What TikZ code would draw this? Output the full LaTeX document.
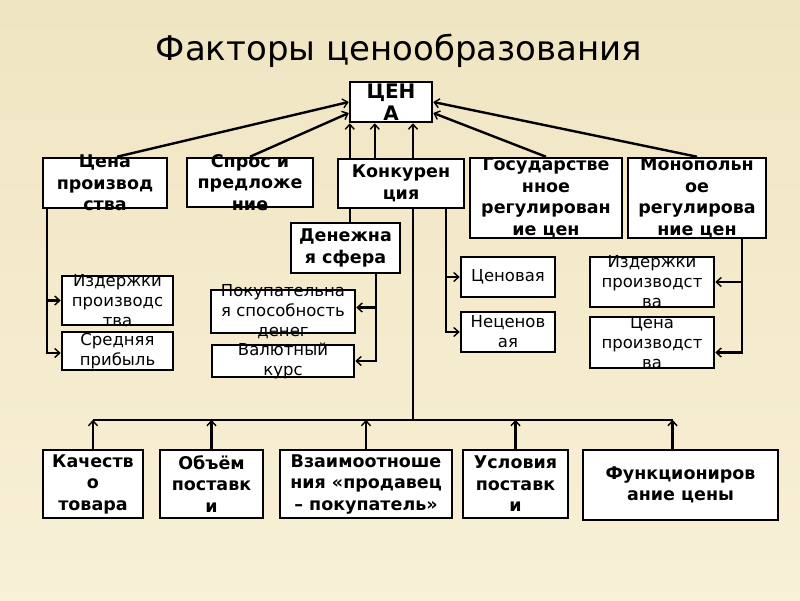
\documentclass[tikz,border=0pt]{standalone}
\usepackage{fontspec}
\setmainfont{DejaVu Sans}
\usetikzlibrary{arrows.meta}
\pgfdeclarelayer{bg}
\pgfdeclarelayer{lines}
\pgfsetlayers{bg,lines,main}
\definecolor{parchTop}{RGB}{240,229,194}
\definecolor{parchBot}{RGB}{248,240,215}
\tikzset{
  bbox/.style={draw=black, line width=2.5pt, fill=white, inner sep=0pt},
  tb/.style={font=\bfseries\fontsize{17.5}{21.5}\selectfont, align=center, inner sep=0pt},
  tr/.style={font=\fontsize{16.5}{20}\selectfont, align=center, inner sep=0pt},
  tc/.style={font=\bfseries\fontsize{20}{22}\selectfont, align=center, inner sep=0pt},
  conn/.style={draw=black, line width=2.4pt},
  arr/.style={conn, -{Straight Barb[length=5pt,width=9pt,line width=1.4pt]}},
}
\begin{document}
\begin{tikzpicture}[x=1pt,y=-1pt]
\begin{pgfonlayer}{bg}
  \shade[top color=parchTop, bottom color=parchBot] (0,0) rectangle (800,600);
\end{pgfonlayer}
\useasboundingbox (0,0) rectangle (800,600);

\node[font=\fontsize{34}{40}\selectfont] (title) at (399,51) {Факторы ценообразования};

% top row
\node[bbox, minimum width=82pt, minimum height=40pt, label={[tc]center:{ЦЕН\\А}}] (cena) at (391,102) {};
\node[bbox, minimum width=124pt, minimum height=50pt, label={[tb]center:{Цена\\производ\\ства}}] (cp) at (105,183) {};
\node[bbox, minimum width=126pt, minimum height=49pt, label={[tb]center:{Спрос и\\предложе\\ние}}] (sp) at (250,182.5) {};
\node[bbox, minimum width=126pt, minimum height=49pt, label={[tb]center:{Конкурен\\ция}}] (kon) at (401,183.5) {};
\node[bbox, minimum width=152pt, minimum height=80pt, label={[tb]center:{Государстве\\нное\\регулирован\\ие цен}}] (gos) at (546,198) {};
\node[bbox, minimum width=138pt, minimum height=80pt, label={[tb]center:{Монопольн\\ое\\регулирова\\ние цен}}] (mon) at (697,198) {};

% middle
\node[bbox, minimum width=109pt, minimum height=50pt, label={[tb]center:{Денежна\\я сфера}}] (den) at (345.5,248) {};
\node[bbox, minimum width=111pt, minimum height=49pt, label={[tr]center:{Издержки\\производс\\тва}}] (izd1) at (117.5,300.5) {};
\node[bbox, minimum width=111pt, minimum height=38pt, label={[tr]center:{Средняя\\прибыль}}] (sred) at (117.5,351) {};
\node[bbox, minimum width=144pt, minimum height=43pt, label={[tr]center:{Покупательна\\я способность\\денег}}] (pok) at (283,311.5) {};
\node[bbox, minimum width=142pt, minimum height=32pt, label={[tr]center:{Валютный\\курс}}] (val) at (283,361) {};
\node[bbox, minimum width=94pt, minimum height=40pt, label={[tr]center:{Ценовая}}] (cenv) at (508,277) {};
\node[bbox, minimum width=94pt, minimum height=40pt, label={[tr]center:{Неценов\\ая}}] (necen) at (508,332) {};
\node[bbox, minimum width=124pt, minimum height=50pt, label={[tr]center:{Издержки\\производст\\ва}}] (izd2) at (652,282) {};
\node[bbox, minimum width=124pt, minimum height=51pt, label={[tr]center:{Цена\\производст\\ва}}] (cp2) at (652,342.5) {};

% bottom
\node[bbox, minimum width=100pt, minimum height=68pt, label={[tb]center:{Качеств\\о\\товара}}] (kach) at (93,484) {};
\node[bbox, minimum width=103pt, minimum height=68pt, label={[tb]center:{Объём\\поставк\\и}}] (obem) at (211.5,484) {};
\node[bbox, minimum width=172pt, minimum height=68pt, label={[tb]center:{Взаимоотноше\\ния «продавец\\– покупатель»}}] (vz) at (366,484) {};
\node[bbox, minimum width=105pt, minimum height=68pt, label={[tb]center:{Условия\\поставк\\и}}] (usl) at (515.5,484) {};
\node[bbox, minimum width=195pt, minimum height=70pt, label={[tb]center:{Функциониров\\ание цены}}] (fun) at (680.5,485) {};

\coordinate (barL) at ([yshift=29pt]kach.north);
\coordinate (barR) at ([xshift=-8pt,yshift=29pt]fun.north);

\begin{pgfonlayer}{lines}
  % to ЦЕНА
  \draw[arr] ([xshift=12pt]cp.north) -- (cena.west);
  \draw[arr] (sp.north) -- ([yshift=-11pt]cena.west);
  \draw[arr] (gos.north) -- ([yshift=-11pt]cena.east);
  \draw[arr] (mon.north) -- (cena.east);
  \draw[arr] ([xshift=60pt]den.north west) -- ([xshift=60pt]den.north west |- cena.south);
  \draw[arr] ([xshift=38pt]kon.north west) -- ([xshift=38pt]kon.north west |- cena.south);
  \coordinate (barM) at ([xshift=22pt]cena.south |- barL);
  \draw[arr] (barM) -- ([xshift=22pt]cena.south);
  % bottom bar
  \draw[conn] (barL) -- (barR);
  \draw[arr] (kach.north) -- (barL);
  \draw[arr] (obem.north) -- (obem.north |- barL);
  \draw[arr] (vz.north) -- (vz.north |- barL);
  \draw[arr] (usl.north) -- (usl.north |- barL);
  \draw[arr] ([xshift=-8pt]fun.north) -- (barR);
  % left branch
  \coordinate (cpL) at ([xshift=5pt]cp.south west);
  \draw[arr] (cpL) |- ([yshift=-2pt]sred.west);
  \draw[arr] (cpL |- izd1.west) -- (izd1.west);
  % денежная сфера
  \coordinate (denR) at ([xshift=-25pt]den.south east);
  \coordinate (pokR) at ([yshift=4pt]pok.east);
  \draw[arr] (denR) |- (val.east);
  \draw[arr] (denR |- pokR) -- (pokR);
  % конкуренция
  \coordinate (konR) at ([xshift=-19pt]kon.south east);
  \draw[arr] (konR) |- (necen.west);
  \draw[arr] (konR |- cenv.west) -- (cenv.west);
  % монопольное
  \coordinate (monR) at ([xshift=-25pt]mon.south east);
  \coordinate (cp2R) at ([yshift=-10pt]cp2.east);
  \draw[arr] (monR) |- (cp2R);
  \draw[arr] (monR |- izd2.east) -- (izd2.east);
\end{pgfonlayer}
\end{tikzpicture}
\end{document}
